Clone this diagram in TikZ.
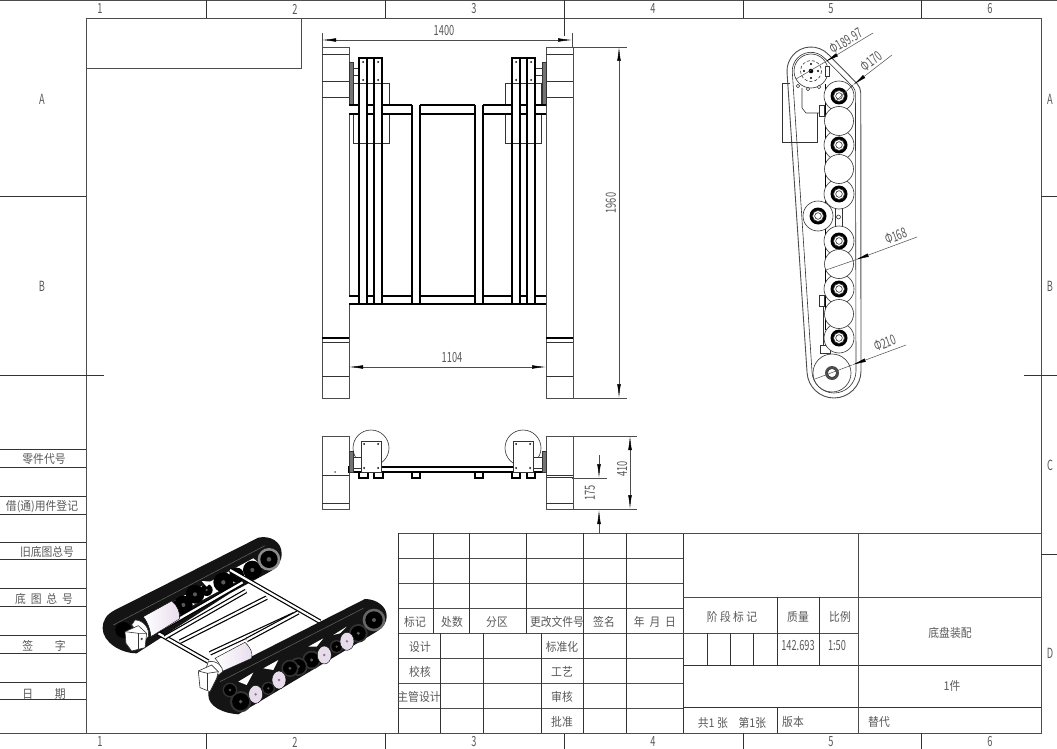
\documentclass[tikz,border=0pt]{standalone}
\usepackage{fontspec}
\setmainfont{Noto Sans CJK SC}
\usetikzlibrary{arrows.meta}
\definecolor{framegray}{gray}{0.3}
\definecolor{textgray}{gray}{0.35}
\definecolor{lilac}{HTML}{E8DCEC}
\tikzset{
	thinline/.style={draw=black!80, line width=0.6pt},
	boldline/.style={draw=black, line width=1.3pt},
	grayline/.style={draw=framegray, line width=0.9pt},
	dimline/.style={draw=black!70, line width=0.5pt},
	dimarrow/.style={dimline, {Latex[length=14pt,width=3.6pt,black]}-{Latex[length=14pt,width=3.6pt,black]}},
	dimtip/.style={dimline, -{Latex[length=14pt,width=3.6pt,black]}},
	cadnum/.style={text=textgray, font=\fontsize{14}{14}\selectfont, xscale=0.66, inner sep=0pt},
	cadtext/.style={text=textgray, font=\fontsize{12}{12}\selectfont, xscale=0.9, inner sep=0pt},
	isotube/.style={line width=4.6pt, draw=black},
	isotubein/.style={line width=2.2pt, draw=white},
	isowheel/.style={fill=black},
	isohub/.style={fill=black!65},
}
\begin{document}
\begin{tikzpicture}[x=1pt,y=-1pt]
	\useasboundingbox (0,0) rectangle (1057,749);
	\fill[white] (0,0) rectangle (1057,749);

	% sheet frame
	\draw[grayline] (0,0.4) -- (1057,0.4);
	\draw[grayline] (86,18) -- (1041,18) -- (1041,733) -- (0,733);
	\draw[grayline] (86,18) -- (86,733);
	\draw[grayline] (86,68) -- (301,68) -- (301,18);
	% zone ticks
	\foreach \tx in {206,385,743,921} {
		\draw[thinline] (\tx,0) -- (\tx,18);
		\draw[thinline] (\tx,733) -- (\tx,749);
	}
	\draw[thinline] (564,0) -- (564,36);
	\draw[thinline] (564,733) -- (564,749);
	\draw[thinline] (0,196) -- (86,196);
	\draw[thinline] (0,375) -- (104,375);
	\draw[thinline] (1041,196) -- (1057,196);
	\draw[thinline] (1024,375) -- (1057,375);
	\draw[thinline] (1041,554) -- (1057,554);
	% zone labels
	\foreach \tx/\tn in {100/1,295/2,474/3,653/4,831/5,990/6} {
		\node[cadnum] (top\tn) at (\tx,9) {\tn};
		\node[cadnum] (bot\tn) at (\tx,742) {\tn};
	}
	\node[cadnum] (leftA) at (42,99) {A};
	\node[cadnum] (leftB) at (42,286) {B};
	\node[cadnum] (rightA) at (1050,99) {A};
	\node[cadnum] (rightB) at (1050,286) {B};
	\node[cadnum] (rightC) at (1050,465) {C};
	\node[cadnum] (rightD) at (1050,653) {D};

	% left margin list
	\foreach \ly in {449,467,496,514,542,559,588,606,635,653,682,699} {
		\draw[thinline] (0,\ly) -- (86,\ly);
	}
	\node[cadtext] (listone) at (44,459) {零件代号};
	\node[cadtext] (listtwo) at (42,507) {借(通)用件登记};
	\node[cadtext] (listthree) at (47,552) {旧底图总号};
	\node[cadtext] (listfour) at (44,599) {底\ \ 图\ \ 总\ \ 号};
	\node[cadtext] (listfive) at (44,646) {签\qquad 字};
	\node[cadtext] (listsix) at (44,694) {日\qquad 期};

	% top view, tracks
	\foreach \sx in {322,546} {
		\draw[grayline] (\sx,47) rectangle (\sx+27,398);
		\draw[thinline] (\sx,54) -- (\sx+27,54);
		\draw[thinline] (\sx,81) -- (\sx+27,81);
		\draw[thinline] (\sx,97) -- (\sx+27,97);
		\draw[boldline] (\sx,338) -- (\sx+27,338);
		\draw[thinline] (\sx,342) -- (\sx+27,342);
		\draw[thinline] (\sx,376) -- (\sx+27,376);
	}
	% top view, motors
	\draw[thinline] (353,83) rectangle (389,143);
	\draw[thinline] (505,83) rectangle (541,143);
	% top view, drive brackets
	\draw[thinline, fill=black!55] (349,62) rectangle (353,105);
	\draw[thinline, fill=black!55] (542,62) rectangle (546,105);
	\draw[thinline] (353,68) rectangle (359,75);
	\draw[thinline] (535,68) rectangle (542,75);
	% top view, cross beams
	\fill[white] (349,105) rectangle (546,114);
	\fill[white] (349,296) rectangle (546,304);
	\foreach \ly in {105,114,296} {
		\foreach \xa/\xb in {349/359,367/374,382/412,420/475,483/512,520/527,535/546} {
			\draw[boldline] (\xa,\ly) -- (\xb,\ly);
		}
	}
	\draw[boldline] (349,304) -- (546,304);
	% top view, long bars
	\foreach \xa/\xb in {359/367,374/382,512/520,527/535} {
		\draw[boldline] (\xa,304) -- (\xa,58) -- (\xb,58) -- (\xb,304);
	}
	\foreach \xa/\xb in {412/420,475/483} {
		\draw[boldline] (\xa,105) -- (\xa,304);
		\draw[boldline] (\xb,105) -- (\xb,304);
	}
	\draw[boldline] (367,58) -- (374,58);
	\draw[boldline] (520,58) -- (527,58);
	\foreach \dx in {363,378,516,531} {
		\fill[black] (\dx,62) circle (1);
		\fill[black] (\dx,80) circle (1);
	}
	% top view, dimensions
	\coordinate (dimAa) at (322,40);
	\coordinate (dimAb) at (572,40);
	\draw[dimline] (322,33) -- (322,47);
	\draw[dimline] (572,33) -- (572,47);
	\draw[dimarrow] (dimAa) -- (dimAb);
	\node[cadnum] (dimAtext) at (444,31) {1400};
	\coordinate (dimBa) at (619,47);
	\coordinate (dimBb) at (619,398);
	\draw[dimline] (572,47) -- (627,47);
	\draw[dimline] (572,398) -- (627,398);
	\draw[dimarrow] (dimBa) -- (dimBb);
	\node[rotate=90, cadnum] (dimBtext) at (611,203) {1960};
	\coordinate (dimCa) at (349,367);
	\coordinate (dimCb) at (546,367);
	\draw[dimarrow] (dimCa) -- (dimCb);
	\node[cadnum] (dimCtext) at (452,358) {1104};

	% front view
	\foreach \sx in {322,546} {
		\draw[grayline] (\sx,436) rectangle (\sx+27,509);
		\draw[thinline] (\sx,475) -- (\sx+27,475);
		\draw[thinline] (\sx,503) -- (\sx+27,503);
	}
	\draw[thinline] (546,477) -- (573,477);
	\fill[black!60] (335,472) circle (1);
	\draw[thinline] (371,448) circle (18);
	\draw[thinline] (523,448) circle (18);
	\foreach \xa/\xb in {359/368,374/383,412/420,475/483,512/520,527/535} {
		\draw[boldline] (\xa,472) rectangle (\xb,478);
	}
	\draw[boldline, fill=white] (349,467) rectangle (546,472);
	\draw[thinline, fill=black!55] (349,451) rectangle (353,472);
	\draw[thinline, fill=black!55] (542,451) rectangle (546,472);
	\draw[thinline, fill=white] (353,457) rectangle (361,468);
	\draw[thinline, fill=white] (533,457) rectangle (542,468);
	\foreach \sx in {361,513} {
		\draw[thinline, fill=white] (\sx,441) rectangle (\sx+20,472);
		\fill[black] (\sx+3,444) circle (1);
		\fill[black] (\sx+17,444) circle (1);
		\fill[black] (\sx+3,468) circle (1);
		\fill[black] (\sx+17,468) circle (1);
	}
	\coordinate (dimDa) at (630,436);
	\coordinate (dimDb) at (630,509);
	\draw[dimline] (572,436) -- (637,436);
	\draw[dimline] (572,509) -- (637,509);
	\draw[dimarrow] (dimDa) -- (dimDb);
	\node[rotate=90, cadnum] (dimDtext) at (622,469) {410};
	\coordinate (dimEa) at (599,455);
	\coordinate (dimEb) at (599,478);
	\coordinate (dimEc) at (599,533);
	\coordinate (dimEd) at (599,510);
	\draw[dimline] (572,478) -- (607,478);
	\draw[dimtip] (dimEa) -- (dimEb);
	\draw[dimtip] (dimEc) -- (dimEd);
	\node[rotate=90, cadnum] (dimEtext) at (590,493) {175};

	% side view, track band
	\draw[grayline, fill=white] (787.05,72.5) arc[start angle=176.4,end angle=317,radius=24]
		-- (857,83.5) arc[start angle=-43,end angle=0,radius=14]
		-- (861,371) arc[start angle=0,end angle=176.4,radius=27] -- cycle;
	\draw[thinline] (792.3,72.2) arc[start angle=176.4,end angle=317,radius=18.7]
		-- (853,87) arc[start angle=-43,end angle=0,radius=9]
		-- (856,371) arc[start angle=0,end angle=176.4,radius=22] -- cycle;
	% side view, motor and bracket
	\draw[thinline] (790,83) -- (782,83) -- (782,142) -- (817,142) -- (817,113);
	\draw[thinline] (802,88) -- (802,108) -- (806,113) -- (822,113);
	% side view, sprocket
	\draw[thinline, fill=white] (811,71) circle (17);
	\draw[thinline, densely dashed] (811,71) circle (10.5);
	\fill[black] (811,71) circle (2.3);
	\foreach \ang in {0,90,180,270} {
		\fill[black] (811,71) ++(\ang:7) circle (1.1);
	}
	\foreach \bx/\by in {798/86,808/89,819/87} {
		\draw[thinline, fill=white] (\bx,\by) circle (1.8);
	}
	\draw[thinline, fill=white] (825,66) rectangle (829,76);
	% side view, rail
	\draw[draw=black, line width=1pt] (825,84) -- (825,330);
	\draw[thinline, fill=white] (819,105) rectangle (824,116);
	\draw[thinline, fill=white] (835,205) rectangle (842,228);
	\draw[thinline] (838.5,217) circle (2);
	\draw[thinline, fill=white] (819,295) rectangle (824,306);
	\draw[thinline] (823,306) -- (823,345);
	\draw[thinline, fill=white] (820,345) rectangle (830,353);
	% side view, road wheels
	\foreach \wy in {96,145,194,241,289,338} {
		\draw[thinline, fill=white] (839,\wy) circle (15);
		\fill[black] (839,\wy) circle (8.5);
		\draw[thinline, fill=white] (839,\wy) circle (5.5);
		\draw[thinline] (839,\wy) circle (3.3);
	}
	\foreach \wy in {121,169,264,314} {
		\draw[thinline, fill=white] (839,\wy) circle (14.5);
	}
	\draw[thinline, fill=white] (818,216) circle (15);
	\fill[black] (818,216) circle (8.5);
	\draw[thinline, fill=white] (818,216) circle (5.5);
	\draw[thinline] (818,216) circle (3.3);
	\draw[thinline, fill=white] (832,373) circle (19);
	\fill[black!70] (832,373) circle (7);
	\draw[thinline, fill=white] (832,373) circle (4.5);
	% side view, diameter leaders
	\coordinate (diaAa) at (873,33);
	\coordinate (diaAb) at (825,62);
	\coordinate (diaAc) at (796,79);
	\draw[dimtip] (diaAa) -- (diaAb);
	\draw[dimline] (diaAb) -- (diaAc);
	\node[rotate=31, cadnum] (diaAtext) at (846,41) {Φ189.97};
	\coordinate (diaBa) at (892,55);
	\coordinate (diaBb) at (853,85);
	\coordinate (diaBc) at (837,100);
	\draw[dimtip] (diaBa) -- (diaBb);
	\draw[dimline] (diaBb) -- (diaBc);
	\node[rotate=38, cadnum] (diaBtext) at (871,61) {Φ170};
	\coordinate (diaCa) at (917,237);
	\coordinate (diaCb) at (855,260);
	\coordinate (diaCc) at (826,270);
	\draw[dimtip] (diaCa) -- (diaCb);
	\draw[dimline] (diaCb) -- (diaCc);
	\node[rotate=20, cadnum] (diaCtext) at (896,236) {Φ168};
	\coordinate (diaDa) at (906,345);
	\coordinate (diaDb) at (852,365);
	\coordinate (diaDc) at (815,379);
	\draw[dimtip] (diaDa) -- (diaDb);
	\draw[dimline] (diaDb) -- (diaDc);
	\node[rotate=20, cadnum] (diaDtext) at (885,343) {Φ210};

	% isometric view
	\begin{scope}[shift={(90,525)},scale=0.3333]
		% rear track
		\fill[black!92] (38,310) .. controls (38,285) and (50,268) .. (75,255) -- (505,38) .. controls (540,30) and (575,50) .. (575,85)
			.. controls (575,110) and (565,125) .. (540,140) -- (420,205) -- (140,385) .. controls (90,385) and (38,350) .. (38,310) -- cycle;
		\draw[black!60, line width=0.5pt] (70,300) -- (525,62);
		\fill[white] (240,235) -- (490,100) -- (520,125) -- (270,262) -- cycle;
		\foreach \ix/\iy/\ir in {487/135/28,440/150/22,400/172/30,350/195/18,315/208/28,280/240/28,255/250/22} {
			\fill[isowheel] (\ix,\iy) circle (\ir);
			\fill[isohub] (\ix,\iy) circle (\ir*0.22);
		}
		\fill[black!45] (537,103) circle (34);
		\fill[isowheel] (537,103) circle (26);
		\fill[isohub] (537,103) circle (7);
		\fill[white] (335,168) -- (365,170) -- (350,185) -- cycle;
		\fill[isowheel] (100,315) circle (24);
		% cross beams and long bars
		\foreach \ax/\ay/\bx/\by in {205/325/355/410,420/135/690/290,200/320/458/172,225/337/468/198,270/350/530/218,360/385/612/268,470/345/625/262} {
			\draw[isotube] (\ax,\ay) -- (\bx,\by);
			\draw[isotubein] (\ax,\ay) -- (\bx,\by);
		}
		% rear motor
		\shade[left color=white, right color=lilac, draw=black] (160,275) -- (245,228) .. controls (262,240) and (272,265) .. (268,282) -- (183,335) .. controls (180,310) and (172,290) .. (160,275) -- cycle;
		\draw[thinline, fill=white] (135,285) .. controls (160,285) and (180,310) .. (175,335) -- (165,345) -- (125,300) -- cycle;
		\draw[thinline, fill=white] (105,320) -- (145,302) -- (170,325) -- (165,368) -- (125,378) -- (108,355) -- cycle;
		\draw[thinline] (145,325) -- (145,378);
		\draw[thinline] (105,320) -- (145,325) -- (170,325);
		\fill[black!70] (155,342) circle (4);
		% front track
		\fill[black!92] (355,510) .. controls (355,480) and (370,458) .. (395,440) -- (825,222) .. controls (860,222) and (890,245) .. (890,272)
			.. controls (890,295) and (880,305) .. (860,320) -- (445,568) .. controls (400,565) and (355,545) .. (355,510) -- cycle;
		\draw[black!60, line width=0.5pt] (390,470) -- (820,250);
		\fill[white] (445,470) -- (490,443) -- (470,480) -- cycle;
		\fill[white] (520,430) -- (565,405) -- (550,435) -- cycle;
		\fill[white] (655,365) -- (700,340) -- (680,365) -- cycle;
		\fill[white] (730,330) -- (770,305) -- (750,325) -- cycle;
		\foreach \ix/\iy/\ir in {805/325/28,740/365/20,665/405/28,625/425/28,535/490/20,600/430/26,452/530/32,420/495/22} {
			\fill[black!80] (\ix,\iy) circle (\ir);
			\fill[isowheel] (\ix,\iy) circle (\ir*0.8);
			\fill[isohub] (\ix,\iy) circle (\ir*0.18);
		}
		\fill[black!60] (852,285) circle (34);
		\fill[isowheel] (852,285) circle (26);
		\fill[isohub] (852,285) circle (6);
		\foreach \ix/\iy in {497/508,567/465,703/390,771/349} {
			\draw[fill=lilac, draw=black, line width=0.4pt] (\ix,\iy) ellipse (21 and 27);
			\fill[black!50] (\ix,\iy) circle (4);
		}
		% front motor
		\shade[left color=white, right color=lilac, draw=black] (375,400) -- (465,352) .. controls (480,365) and (490,385) .. (485,400) -- (395,440) .. controls (395,425) and (385,410) .. (375,400) -- cycle;
		\draw[thinline, fill=white] (355,410) .. controls (380,405) and (400,425) .. (398,440) -- (385,450) -- (350,425) -- cycle;
		\draw[thinline, fill=white] (325,438) -- (365,420) -- (385,440) -- (380,460) -- (360,500) -- (330,488) -- cycle;
		\draw[thinline] (325,438) -- (352,445) -- (385,440);
		\draw[thinline] (352,445) -- (352,495);
	\end{scope}

	% title block, change table
	\foreach \ly in {533,558,583,608,633,658,683,708,733} {
		\draw[grayline] (398,\ly) -- (683,\ly);
	}
	\foreach \lx in {398,433,469,526,583,626,683} {
		\draw[thinline] (\lx,533) -- (\lx,633);
	}
	\foreach \lx in {398,440,483,541,583,626,683} {
		\draw[thinline] (\lx,633) -- (\lx,733);
	}
	\foreach \tx/\ty/\tname/\ttext in {415/622/tmark/标记,452/622/tcount/处数,497/622/tzone/分区,557/622/tdoc/更改文件号,604/622/tsign/签名,655/622/tdate/年\ \ 月\ \ 日,420/647/tdesign/设计,420/672/tcheck/校核,419/697/tlead/主管设计,562/647/tstd/标准化,562/672/tcraft/工艺,562/697/taudit/审核,562/722/tapprove/批准} {
		\node[cadtext] (\tname) at (\tx,\ty) {\ttext};
	}
	% title block, right part
	\draw[grayline] (683,533) -- (1041,533);
	\draw[grayline] (683,597) -- (1041,597);
	\draw[grayline] (683,633) -- (858,633);
	\draw[thinline] (683,665) -- (1041,665);
	\draw[thinline] (683,707) -- (1041,707);
	\draw[grayline] (858,533) -- (858,733);
	\draw[thinline] (777,597) -- (777,665);
	\draw[thinline] (819,597) -- (819,665);
	\draw[thinline] (777,707) -- (777,733);
	\foreach \lx in {707,730,753} {
		\draw[thinline] (\lx,633) -- (\lx,665);
	}
	\foreach \tx/\ty/\tname/\ttext in {732/617/tphase/阶\ 段\ 标\ 记,798/617/tmass/质量,840/617/tratio/比例,950/633/tpart/底盘装配,732/723/tsheet/共1\ 张\quad 第1张,793/722/tversion/版本,879/722/treplace/替代} {
		\node[cadtext] (\tname) at (\tx,\ty) {\ttext};
	}
	\node[cadnum] (tmassval) at (798,646) {142.693};
	\node[cadnum] (tratioval) at (837,646) {1:50};
	\node[cadtext] (tqty) at (952,686) {1件};
\end{tikzpicture}
\end{document}
